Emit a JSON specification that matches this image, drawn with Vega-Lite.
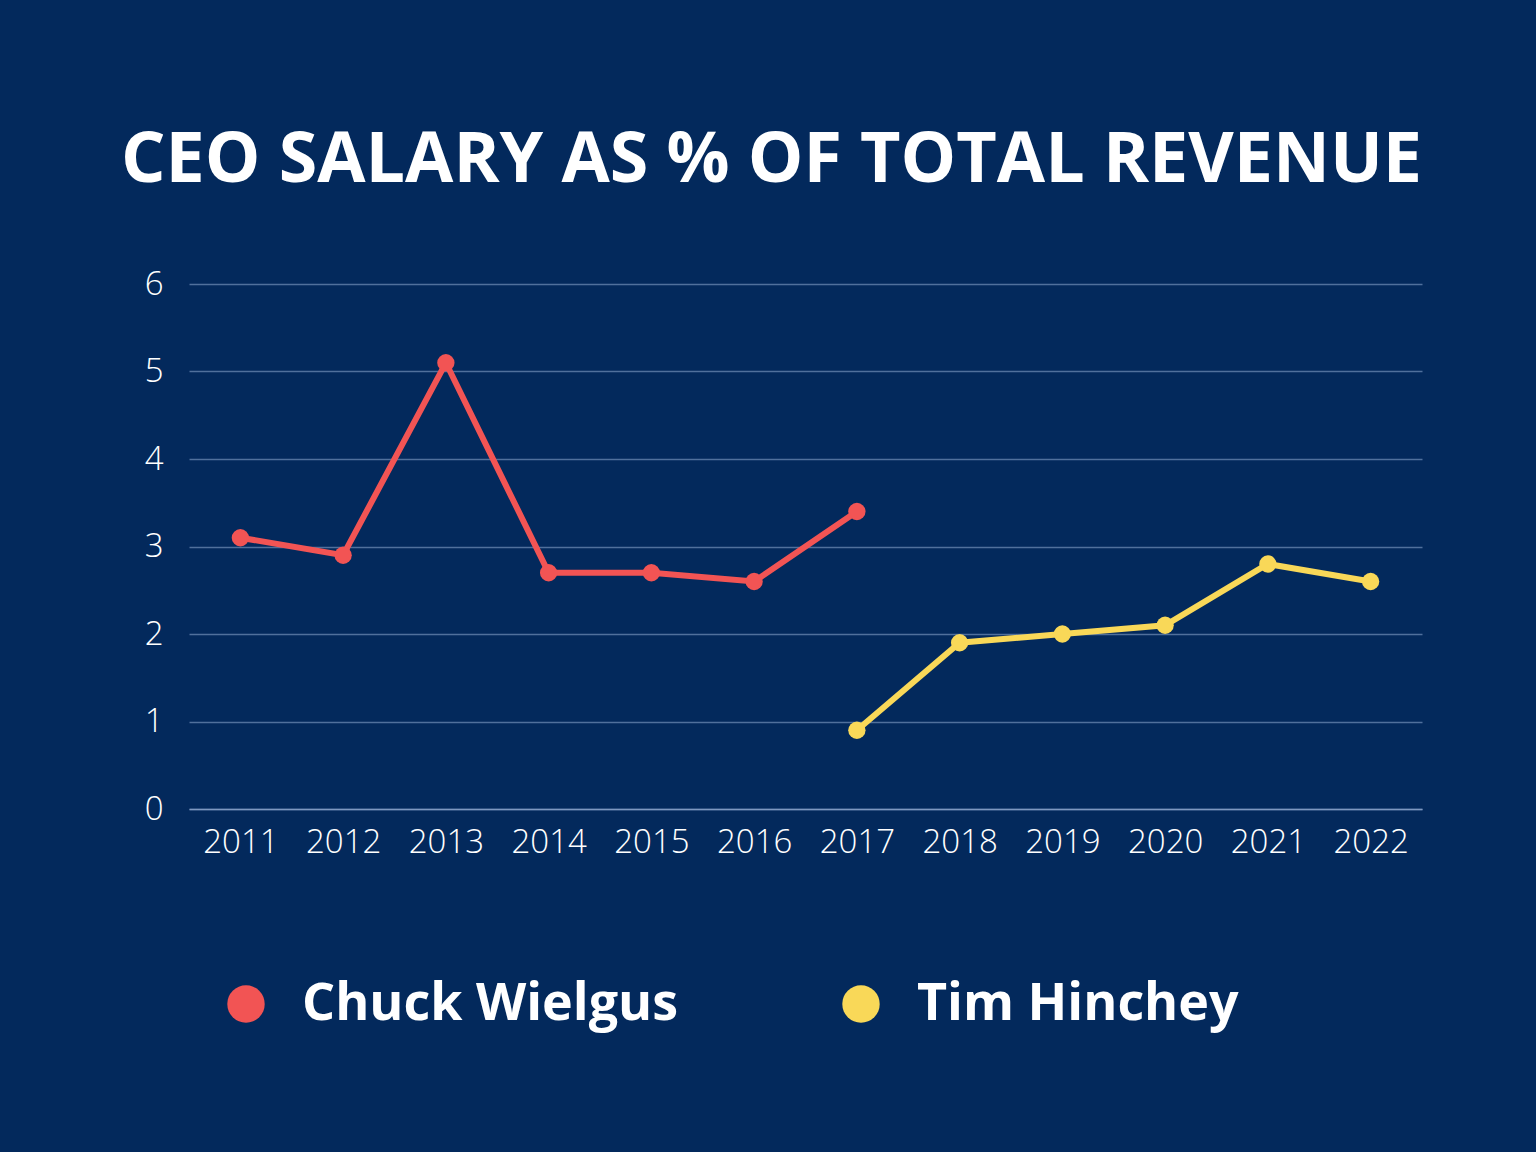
{
  "$schema": "https://vega.github.io/schema/vega-lite/v6.json",
  "width": 1233,
  "height": 525,
  "autosize": {"type": "none"},
  "padding": {"left": 189, "top": 284, "right": 114, "bottom": 343},
  "background": "#03295c",
  "config": {"view": {"stroke": null}},
  "title": {
    "text": "CEO SALARY AS % OF TOTAL REVENUE",
    "font": "Open Sans",
    "fontWeight": 700,
    "fontSize": 70,
    "color": "#ffffff",
    "anchor": "middle",
    "baseline": "alphabetic",
    "dx": -34,
    "offset": 16
  },
  "data": {
    "values": [
      {"ceo": "Chuck Wielgus", "year": "2011", "value": 3.1},
      {"ceo": "Chuck Wielgus", "year": "2012", "value": 2.9},
      {"ceo": "Chuck Wielgus", "year": "2013", "value": 5.1},
      {"ceo": "Chuck Wielgus", "year": "2014", "value": 2.7},
      {"ceo": "Chuck Wielgus", "year": "2015", "value": 2.7},
      {"ceo": "Chuck Wielgus", "year": "2016", "value": 2.6},
      {"ceo": "Chuck Wielgus", "year": "2017", "value": 3.4},
      {"ceo": "Tim Hinchey", "year": "2017", "value": 0.9},
      {"ceo": "Tim Hinchey", "year": "2018", "value": 1.9},
      {"ceo": "Tim Hinchey", "year": "2019", "value": 2.0},
      {"ceo": "Tim Hinchey", "year": "2020", "value": 2.1},
      {"ceo": "Tim Hinchey", "year": "2021", "value": 2.8},
      {"ceo": "Tim Hinchey", "year": "2022", "value": 2.6}
    ]
  },
  "encoding": {
    "x": {
      "field": "year",
      "type": "ordinal",
      "scale": {"type": "point", "padding": 0.5},
      "axis": {
        "title": null,
        "labelAngle": 0,
        "labelFont": "Open Sans",
        "labelFontWeight": 300,
        "labelFontSize": 33,
        "labelColor": "#ffffff",
        "labelPadding": 17,
        "ticks": false,
        "domain": true,
        "domainColor": "#7e98c0",
        "domainWidth": 1.5,
        "grid": false
      }
    },
    "y": {
      "field": "value",
      "type": "quantitative",
      "scale": {"domain": [0, 6], "nice": false},
      "axis": {
        "title": null,
        "values": [0, 1, 2, 3, 4, 5, 6],
        "labelFont": "Open Sans",
        "labelFontWeight": 300,
        "labelFontSize": 33,
        "labelColor": "#ffffff",
        "labelPadding": 26,
        "ticks": false,
        "domain": false,
        "grid": true,
        "gridColor": "#50709c",
        "gridWidth": 1.3
      }
    },
    "color": {
      "field": "ceo",
      "type": "nominal",
      "scale": {"domain": ["Chuck Wielgus", "Tim Hinchey"], "range": ["#f25454", "#f9d858"]},
      "legend": {
        "title": null,
        "orient": "none",
        "direction": "horizontal",
        "legendX": 31,
        "legendY": 694,
        "symbolType": "circle",
        "symbolSize": 1400,
        "symbolStrokeWidth": 0,
        "symbolOpacity": 1,
        "labelFont": "Open Sans",
        "labelFontWeight": 700,
        "labelFontSize": 52,
        "labelColor": "#ffffff",
        "labelOffset": 30,
        "labelLimit": 600,
        "columnPadding": 156
      }
    }
  },
  "layer": [
    {
      "mark": {"type": "line", "strokeWidth": 6}
    },
    {
      "mark": {"type": "point", "filled": true, "size": 300, "opacity": 1}
    }
  ]
}
